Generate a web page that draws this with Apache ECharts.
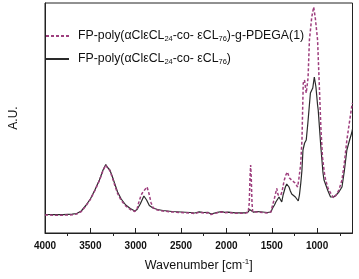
<!DOCTYPE html>
<html>
<head>
<meta charset="utf-8">
<script src="https://cdn.jsdelivr.net/npm/echarts@6/dist/echarts.min.js"></script>
<style>html,body{margin:0;padding:0;background:#fff}#c{width:359px;height:279px}</style>
</head>
<body>
<div id="c"></div>
<script>
// Solid: FP-poly(αClεCL24-co-εCL76)
const solidWn = [4000,3900,3800,3700,3650,3600,3550,3500,3450,3400,3360,3330,3310,3285,3260,3230,3200,3160,3110,3060,3010,2985,2950,2910,2880,2850,2810,2760,2700,2600,2500,2400,2350,2300,2250,2200,2170,2150,2100,2050,2020,1980,1900,1800,1760,1745,1730,1700,1660,1640,1600,1550,1510,1490,1470,1455,1440,1420,1405,1390,1375,1350,1335,1323,1310,1295,1280,1260,1240,1225,1208,1195,1180,1168,1156,1138,1120,1102,1074,1048,1031,1013,995,988,959,935,924,906,880,852,820,790,760,726,700,672,645,619,610];
const solidAbs = [18.5,18.4,18.3,18.8,19.5,22,27.5,34,43,53,63,68.5,65.5,63,57,49,41,34,28,24.5,22,23.5,29,37,33,27.5,25,23.5,22.5,21.5,21,20.5,20,21.2,20.5,20.6,19,20.5,20.6,21.5,20.6,20.8,20.2,20.2,21,23.5,22,20.8,21.5,22,21,20.5,21,25,28,31,33,36,36,31,38,46,49,51,46,42,39,37,36,35,32,38,50,62,83,90,93,110,140,145,156,146,128,123,86,60,53,51,42,36,36,38,41,46,62,83,92,100,104];
// Dashed: FP-poly(αClεCL24-co-εCL76)-g-PDEGA(1)
const dashWn = [4000,3900,3800,3700,3650,3600,3550,3500,3450,3400,3360,3330,3310,3285,3260,3230,3200,3160,3110,3060,3010,2985,2968,2940,2920,2900,2875,2855,2830,2806,2760,2700,2600,2500,2400,2350,2300,2250,2200,2170,2150,2100,2050,2020,1980,1900,1800,1760,1748,1740,1733,1726,1718,1710,1660,1640,1600,1550,1510,1490,1470,1445,1430,1415,1400,1385,1365,1345,1328,1305,1282,1262,1244,1230,1215,1200,1182,1167,1153,1139,1120,1100,1085,1059,1038,1020,995,977,959,941,920,906,880,852,816,790,760,726,700,672,645,619,610];
const dashAbs = [18,17.8,17.8,18.2,19,21.5,27,33.5,42.5,52.5,62.5,68,65,62.5,56,47.5,39.5,32.5,27,23.5,21.5,24,30,38,41,40,46,40,30,25,23,22,21,20.5,20,19.5,20.7,20,20.2,18.5,20,20.2,21,20.2,20.4,19.8,19.8,20.5,30,55,68,55,30,21,21,21.5,20.5,20,21,28,35,44.5,38,40,38,42,52,58,61,55,53,51,50,48,46,55,68,93,150,153,140,155,193,216,226,215,193,150,106,76,60,53,45,40,35,38,43,53,70,93,110,126,130];
const xTicks = [1000,1500,2000,2500,3000,3500,4000];
const xMinorTicks = [750,1250,1750,2250,2750,3250,3750];
const seriesNames = ['dash','solid'];
const legendLabels = {
  dash: '{t|FP-poly(αClεCL}{s|24}{t|-co- εCL}{s|76}{t|)-g-PDEGA(1)}',
  solid: '{t|FP-poly(αClεCL}{s|24}{t|-co- εCL}{s|76}{t|)}'
};

const pairs = (xs, ys) => xs.map((x, i) => [x, ys[i]]);
const chart = echarts.init(document.getElementById('c'));
const FONT = '"Liberation Sans", Arial, sans-serif';
const axisBase = {
  type: 'value', inverse: true, min: 610, max: 4000,
  splitLine: {show: false}
};
chart.setOption({
  animation: false,
  backgroundColor: '#fff',
  grid: {left: 37, right: 6.5, top: 3, bottom: 46, show: true, borderColor: '#222', borderWidth: 1},
  legend: {
    orient: 'vertical', left: 45, top: 30, padding: 0, itemGap: 10, itemWidth: 23, itemHeight: 8,
    data: seriesNames,
    formatter: n => legendLabels[n],
    itemStyle: {opacity: 0},
    textStyle: {
      fontFamily: FONT, color: '#111', padding: [0,0,0,4],
      rich: {
        t: {fontSize: 12.3, fontFamily: FONT, color: '#111', lineHeight: 14},
        s: {fontSize: 7.5, fontFamily: FONT, color: '#111', verticalAlign: 'bottom', lineHeight: 7}
      }
    }
  },
  xAxis: [
    Object.assign({}, axisBase, {
      name: '{a|Wavenumber [cm}{b|-1}{a|]}',
      nameLocation: 'middle', nameGap: 25,
      nameTextStyle: {
        rich: {
          a: {fontSize: 12.5, fontFamily: FONT, color: '#111', lineHeight: 15},
          b: {fontSize: 8, fontFamily: FONT, color: '#111', verticalAlign: 'top', lineHeight: 8}
        }
      },
      axisLine: {show: true, onZero: false, lineStyle: {color: '#222', width: 1}},
      axisTick: {show: true, inside: true, length: 5, customValues: xTicks, lineStyle: {color: '#222'}},
      axisLabel: {customValues: xTicks, formatter: v => String(v), fontSize: 10, fontWeight: 'bold', fontFamily: FONT, color: '#111', margin: 8}
    }),
    Object.assign({}, axisBase, {
      axisLine: {show: false},
      axisTick: {show: true, inside: true, length: 3, customValues: xMinorTicks, lineStyle: {color: '#222'}},
      axisLabel: {show: false}
    })
  ],
  yAxis: {
    type: 'value', min: 0, max: 230,
    name: 'A.U.', nameLocation: 'middle', nameGap: 25, nameRotate: 90,
    nameTextStyle: {fontSize: 12, fontFamily: FONT, color: '#111'},
    axisLine: {show: true, lineStyle: {color: '#222', width: 1}},
    axisTick: {show: false}, axisLabel: {show: false}, splitLine: {show: false}
  },
  series: [
    {name: 'dash', type: 'line', xAxisIndex: 0, data: pairs(dashWn, dashAbs), symbol: 'none', z: 3,
     lineStyle: {color: '#9e3f7e', width: 1.5, type: [3, 2]}, itemStyle: {color: '#9e3f7e'}},
    {name: 'solid', type: 'line', xAxisIndex: 0, data: pairs(solidWn, solidAbs), symbol: 'none', z: 2,
     lineStyle: {color: '#2a2a2a', width: 1.2}, itemStyle: {color: '#2a2a2a'}}
  ]
});
</script>
</body>
</html>
